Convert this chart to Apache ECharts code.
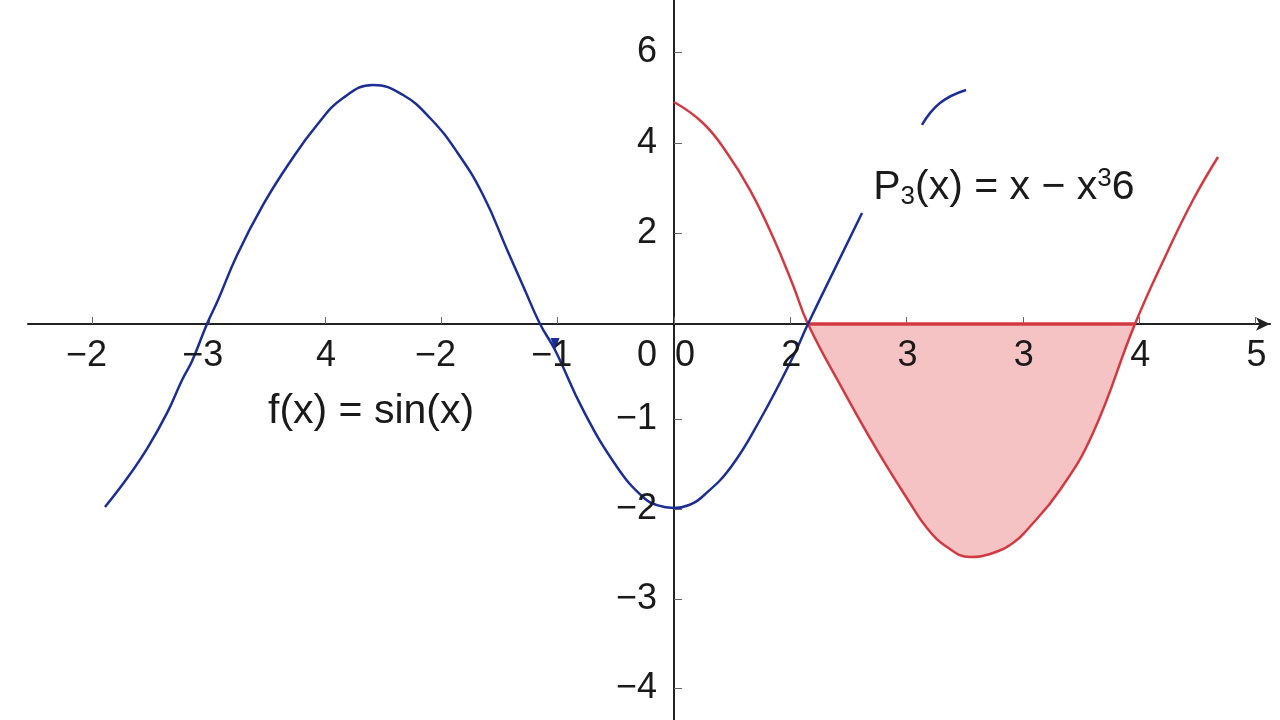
<!DOCTYPE html>
<html>
<head>
<meta charset="utf-8">
<script src="https://cdn.jsdelivr.net/npm/echarts@6/dist/echarts.min.js"></script>
<style>
html,body{margin:0;padding:0;background:#fff;}
#chart{width:1280px;height:720px;}
</style>
</head>
<body>
<div id="chart"></div>
<script>
// ---- data (axis units: one x tick = 1, one y tick step = 1) ----
var xTickPos = [-5, -4, -3, -2, -1, 0, 1, 2, 3, 4, 5];
var xLabelPos = [-5, -4, -3, -2, -1, -0.24, 0.086, 1, 2, 3, 4, 5];
var xLabels = ['\u22122', '\u22123', '4', '\u22122', '\u22121', '0', '0', '2', '3', '3', '4', '5'];
var yTickPos = [3, 2, 1, -1.05, -2.044, -3.04, -4.02];
var yLabels = ['6', '4', '2', '\u22121', '\u22122', '\u22123', '\u22124'];

var blueMain = [
  [-4.893, -2.022], [-4.695, -1.691], [-4.523, -1.360], [-4.359, -0.983], [-4.230, -0.619],
  [-4.144, -0.409], [-4.016, 0], [-3.921, 0.265], [-3.757, 0.762], [-3.534, 1.315],
  [-3.302, 1.790], [-3.070, 2.199], [-2.846, 2.497], [-2.588, 2.641], [-2.330, 2.530],
  [-2.098, 2.276], [-1.866, 1.901], [-1.642, 1.425], [-1.427, 0.796], [-1.290, 0.398],
  [-1.152, 0], [-1.023, -0.287], [-0.782, -0.950], [-0.490, -1.580], [-0.267, -1.912],
  [-0.138, -2.005], [0, -2.033], [0.130, -2.000], [0.260, -1.890], [0.490, -1.580],
  [0.739, -1.061], [1.023, -0.365], [1.152, 0], [1.617, 1.227]
];
var blueArc = [[2.132, 2.199], [2.287, 2.442], [2.511, 2.586]];
var blueMarker = [[-1.023, -0.22]];

var redCurve = [
  [0, 2.453], [0.249, 2.221], [0.456, 1.890], [0.653, 1.481], [0.851, 0.961],
  [1.023, 0.430], [1.152, 0], [1.453, -0.729], [1.745, -1.392], [2.029, -1.978],
  [2.175, -2.254], [2.347, -2.464], [2.545, -2.575], [2.743, -2.530], [2.915, -2.420],
  [3.035, -2.276], [3.319, -1.834], [3.603, -1.204], [3.964, 0], [4.239, 0.785],
  [4.463, 1.370], [4.678, 1.845]
];
var redFill = redCurve.slice(6, 19);
var redBase = [[1.152, 0], [3.964, 0]];

var notes = [
  { value: [-2.605, -0.972], text: 'f(x) = sin(x)' },
  { value: [2.837, 1.503], text: 'P{sub|3}(x) = x \u2212 x{sup|3}6' }
];

// ---- chart ----
var FONT = '"Liberation Sans", Arial, sans-serif';
var BLUE = '#1b2e96';
var RED = '#d23a42';
var INK = '#1a1a1a';

var chart = echarts.init(document.getElementById('chart'));
chart.setOption({
  animation: false,
  backgroundColor: '#fff',
  grid: { left: 28, right: 10, top: 0, bottom: 0, containLabel: false, outerBoundsMode: 'none' },
  xAxis: {
    type: 'value',
    min: -5.555, max: 5.125,
    axisLine: { onZero: true, lineStyle: { color: '#222', width: 2 }, symbol: ['none', 'arrow'], symbolSize: [10, 14] },
    axisTick: { show: true, inside: true, length: 7, lineStyle: { color: '#666', width: 1 }, customValues: xTickPos },
    axisLabel: { show: false },
    splitLine: { show: false }
  },
  yAxis: {
    type: 'value',
    min: -4.376, max: 3.58,
    axisLine: { onZero: true, lineStyle: { color: '#222', width: 2 } },
    axisTick: { show: true, inside: true, length: 8, lineStyle: { color: '#666', width: 1 }, customValues: yTickPos },
    axisLabel: { show: false },
    splitLine: { show: false }
  },
  series: [
    { type: 'line', data: redFill, smooth: 0.45, symbol: 'none',
      lineStyle: { width: 0 }, areaStyle: { color: '#f5c3c3', opacity: 1 }, z: 1 },
    { type: 'line', data: redBase, symbol: 'none', lineStyle: { color: RED, width: 3.5 }, z: 3 },
    { type: 'line', data: redCurve, smooth: 0.45, symbol: 'none',
      lineStyle: { color: RED, width: 2.5 }, z: 4 },
    { type: 'line', data: blueMain, smooth: 0.45, symbol: 'none',
      lineStyle: { color: BLUE, width: 2.5 }, z: 5 },
    { type: 'line', data: blueArc, smooth: 0.45, symbol: 'none',
      lineStyle: { color: BLUE, width: 2.5 }, z: 5 },
    { type: 'scatter', data: blueMarker, symbol: 'triangle', symbolRotate: 180, symbolSize: [9, 12],
      itemStyle: { color: BLUE, opacity: 1 }, z: 6 },
    // x tick labels
    { type: 'scatter', symbolSize: 0, z: 7, silent: true, itemStyle: { opacity: 1 },
      data: xLabelPos.map(function (p, i) {
        var neg = xLabels[i].charAt(0) === '\u2212';
        return { value: [p, 0], name: xLabels[i], label: { offset: [neg ? -6 : 1, 0] } };
      }),
      label: { show: true, position: 'bottom', distance: 14, formatter: '{b}', opacity: 1,
        fontSize: 36, fontFamily: FONT, color: INK } },
    // y tick labels
    { type: 'scatter', symbolSize: 0, z: 7, silent: true, itemStyle: { opacity: 1 },
      data: yTickPos.map(function (p, i) { return { value: [0, p], name: yLabels[i] }; }),
      label: { show: true, position: 'left', distance: 17, formatter: '{b}', opacity: 1,
        fontSize: 36, fontFamily: FONT, color: INK } },
    // annotations
    { type: 'scatter', symbolSize: 0, z: 7, silent: true, itemStyle: { opacity: 1 },
      data: notes.map(function (n) { return { value: n.value, name: n.text }; }),
      label: {
        show: true, position: 'inside', formatter: '{b}', opacity: 1,
        fontSize: 41, lineHeight: 44, fontFamily: FONT, color: INK,
        rich: {
          sub: { fontSize: 26, fontFamily: FONT, color: INK, verticalAlign: 'bottom', lineHeight: 16 },
          sup: { fontSize: 26, fontFamily: FONT, color: INK, verticalAlign: 'top', lineHeight: 16 }
        }
      }
    }
  ]
});
</script>
</body>
</html>
